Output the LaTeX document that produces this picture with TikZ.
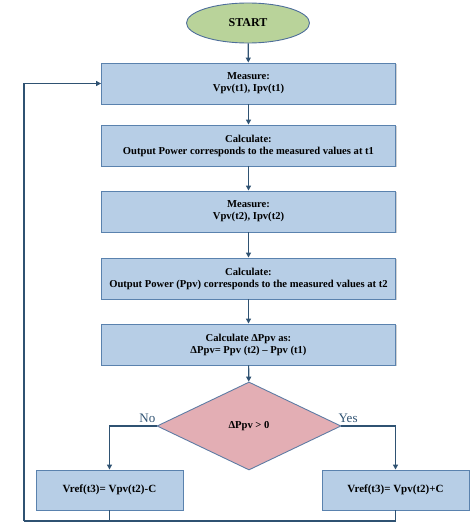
\documentclass[tikz,border=0pt]{standalone}
\usepackage{fontspec}
\setmainfont{Liberation Serif}
\usetikzlibrary{shapes.geometric,arrows.meta,shadows}
\definecolor{boxfill}{HTML}{B7CEE6}
\definecolor{boxline}{HTML}{5A82AE}
\definecolor{startfill}{HTML}{B9D39A}
\definecolor{startline}{HTML}{4E6E9A}
\definecolor{dfill}{HTML}{E3AEB4}
\definecolor{dline}{HTML}{5E7CA4}
\definecolor{conn}{HTML}{2F5272}
\tikzset{
  procbox/.style={draw=boxline, line width=0.9pt, fill=boxfill, rectangle, minimum height=41pt,
    align=center, font=\fontsize{10.6}{12}\selectfont\bfseries,
    drop shadow={shadow xshift=1.2pt, shadow yshift=-1.2pt, fill=black!35}},
  startnode/.style={draw=startline, line width=0.9pt, fill=startfill, ellipse, minimum width=123pt, minimum height=40pt,
    font=\fontsize{12}{14}\selectfont\bfseries},
  decnode/.style={draw=dline, line width=0.9pt, fill=dfill, diamond, minimum width=184pt, minimum height=88pt,
    inner sep=0pt, font=\fontsize{10.6}{12}\selectfont\bfseries},
  conn/.style={draw=conn, line width=1.2pt, -{Triangle[length=5pt,width=5pt]}},
  connplain/.style={draw=conn, line width=1.2pt},
  lbl/.style={font=\fontsize{13}{15}\selectfont, text=conn, inner sep=0pt}
}
\begin{document}
\begin{tikzpicture}[x=1pt,y=-1pt]
\useasboundingbox (0,0) rectangle (474,530);
\node[startnode] (start) at (248,23) {START};
\node[procbox, minimum width=294pt] (m1) at (248.5,83.5) {Measure:\\Vpv(t1), Ipv(t1)};
\node[procbox, minimum width=294pt] (c1) at (248.5,145.5) {Calculate:\\Output Power corresponds to the measured values at t1};
\node[procbox, minimum width=294pt] (m2) at (248.5,211.5) {Measure:\\Vpv(t2), Ipv(t2)};
\node[procbox, minimum width=294pt] (c2) at (248.5,278.5) {Calculate:\\Output Power (Ppv) corresponds to the measured values at t2};
\node[procbox, minimum width=294pt] (dp) at (248.5,344.5) {Calculate ΔPpv as:\\ΔPpv= Ppv (t2) – Ppv (t1)};
\node[decnode] (dec) at (249,426) {ΔPpv > 0};
\node[procbox, minimum width=147pt, minimum height=40pt, font=\fontsize{11}{13}\selectfont\bfseries] (lb) at (109.5,490) {Vref(t3)= Vpv(t2)-C};
\node[procbox, minimum width=147pt, minimum height=40pt, font=\fontsize{11}{13}\selectfont\bfseries] (rb) at (395.5,490) {Vref(t3)= Vpv(t2)+C};
\coordinate (bl) at (24,521);
\coordinate (br) at (lb.south |- bl);
\coordinate (brr) at (rb.south |- bl);
\draw[conn] (start) -- (m1);
\draw[conn] (m1) -- (c1);
\draw[conn] (c1) -- (m2);
\draw[conn] (m2) -- (c2);
\draw[conn] (c2) -- (dp);
\draw[conn] (dp) -- (dec);
\draw[conn] (dec.west) -| (lb.north);
\draw[conn] (dec.east) -| (rb.north);
\node[lbl, anchor=south east] (no) at ([xshift=-1pt,yshift=3pt]dec.west) {No};
\node[lbl, anchor=south west] (yes) at ([xshift=-3pt,yshift=3pt]dec.east) {Yes};
\draw[connplain] (lb.south) -- (br);
\draw[connplain] (rb.south) -- (brr) -- (bl);
\draw[conn] (bl) |- (m1.west);
\end{tikzpicture}
\end{document}
